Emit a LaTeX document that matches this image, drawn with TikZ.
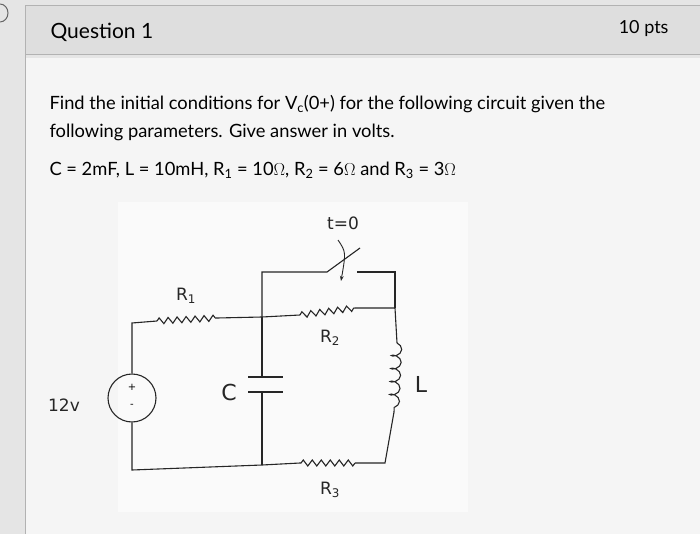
\documentclass[tikz,border=0pt]{standalone}
\usepackage{fontspec}
\setmainfont{Lato}
\newfontfamily\hand{DejaVu Sans}
\usetikzlibrary{decorations.pathmorphing,arrows.meta}
\begin{document}
\begin{tikzpicture}[x=1pt,y=-1pt,
  wire/.style={line width=1.1pt,black!85},
  res/.style={wire,decorate,decoration={zigzag,segment length=9pt,amplitude=3pt}},
  coil/.style={wire,decorate,decoration={coil,aspect=0.6,segment length=13pt,amplitude=5pt}},
  hl/.style={font=\hand\fontsize{17}{19}\selectfont,text=black!85},
  big/.style={font=\hand\fontsize{22}{24}\selectfont,text=black!85}]
\useasboundingbox (0,0) rectangle (700,534);
\fill[black!10] (0,0) rectangle (700,534);
\fill[black!4] (25,58) rectangle (700,534);
\fill[black!13] (25,6) rectangle (700,55);
\draw[black!30,line width=1pt] (25,6) -- (700,6) (25,55) -- (700,55) (25,6) -- (25,534);
\draw[black!60,line width=1pt] (0,22) arc (90:-90:8 and 9);
\fill[black!2] (118,202) rectangle (468,512);
\node[anchor=west,font=\fontsize{21}{24}\selectfont] (q) at (47,32) {Question 1};
\node[anchor=east,font=\fontsize{18}{20}\selectfont] (p) at (672,29) {10 pts};
\node[anchor=west,font=\fontsize{18.3}{20}\selectfont] (l1) at (46,104) {Find the initial conditions for V\textsubscript{c}(0+) for the following circuit given the};
\node[anchor=west,font=\fontsize{18.3}{20}\selectfont] (l2) at (46,132) {following parameters. Give answer in volts.};
\node[anchor=west,font=\fontsize{18.3}{20}\selectfont] (l3) at (46,170) {C = 2mF, L = 10mH, R\textsubscript{1} = 10$\Omega$, R\textsubscript{2} = 6$\Omega$ and R\textsubscript{3} = 3$\Omega$};
% circuit
\node[circle,draw,wire,minimum size=48pt,inner sep=0] (src) at (132,398) {};
\node[font=\hand] (plus) at (132,387) {+};
\node[font=\hand] (minus) at (132,406) {-};
\coordinate (tl) at (132,323); \coordinate (bl) at (132,470);
\coordinate (r1a) at (157,321); \coordinate (r1b) at (217,318);
\coordinate (j) at (262,317); \coordinate (jb) at (262,465);
\coordinate (st) at (262,272); \coordinate (sw) at (327,272);
\coordinate (swe) at (360,248); \coordinate (fc) at (357,272);
\coordinate (tr) at (395,272); \coordinate (rr) at (395,308);
\coordinate (r2a) at (300,315); \coordinate (r2b) at (355,308);
\coordinate (la) at (397,343); \coordinate (lb) at (394,412);
\coordinate (br) at (385,463); \coordinate (r3a) at (300,463); \coordinate (r3b) at (355,463);
\coordinate (c1) at (262,377); \coordinate (c2) at (262,392);
\draw[wire] (src.north) -- (tl) -- (r1a);
\draw[res] (r1a) -- (r1b);
\draw[wire] (r1b) -- (j) -- (r2a);
\draw[res] (r2a) -- (r2b);
\draw[wire] (r2b) -- (rr) -- (la);
\draw[coil] (la) -- (lb);
\draw[wire] (lb) -- (br) -- (r3b);
\draw[res] (r3b) -- (r3a);
\draw[wire] (r3a) -- (jb) -- (bl) -- (src.south);
\draw[wire] (j) -- (st) -- (sw) -- (swe);
\draw[wire] (fc) -- (tr) -- (rr);
\draw[wire] (j) -- (c1) (c2) -- (jb);
\draw[wire] (248,377) -- (283,377) (248,392) -- (283,392);
\draw[wire,line width=0.9pt,-{Stealth[length=5pt]}] (338,240) .. controls (346,252) .. (341,281);
\node[hl] (lr1) at (186,296) {R\textsubscript{1}};
\node[hl] (lr2) at (330,338) {R\textsubscript{2}};
\node[hl] (lr3) at (330,490) {R\textsubscript{3}};
\node[big] (lc) at (229,392) {C};
\node[big] (ll) at (421,384) {L};
\node[hl] (lv) at (64,405) {12v};
\node[hl] (lt) at (343,223) {t=0};
\end{tikzpicture}
\end{document}
